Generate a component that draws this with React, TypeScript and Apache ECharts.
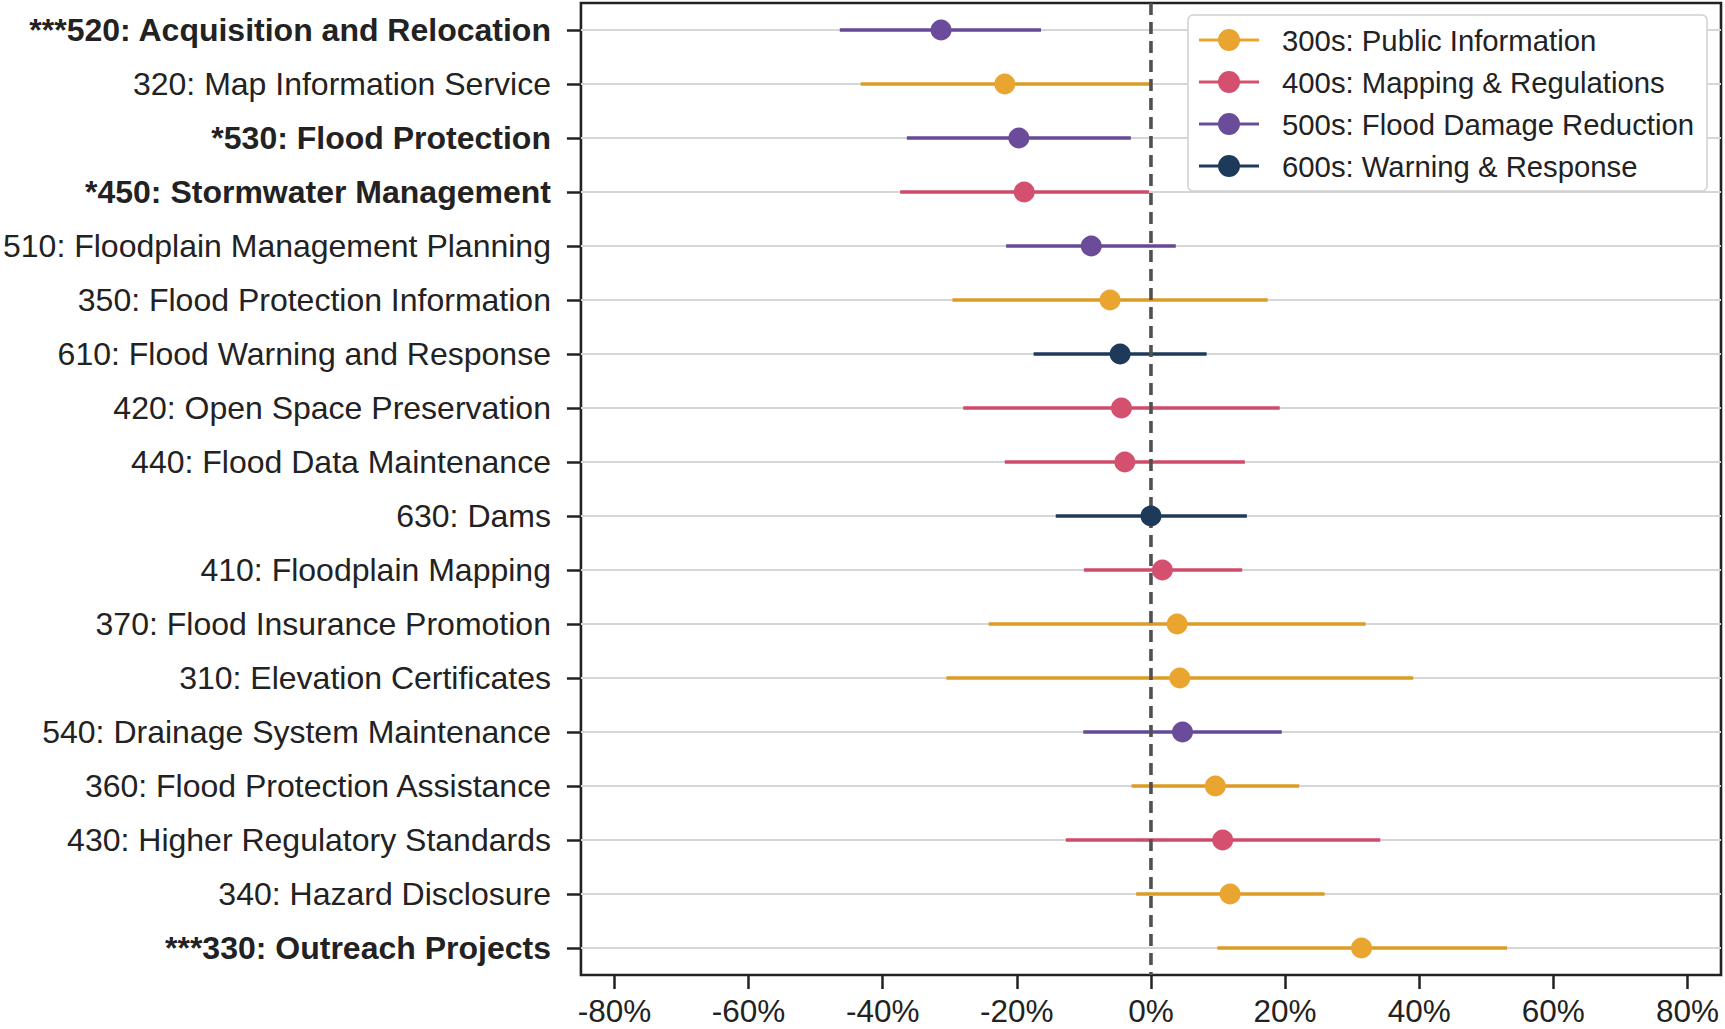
import { useEffect, useRef } from "react";
import * as echarts from "echarts";

const categories = [
  "***520: Acquisition and Relocation",
  "320: Map Information Service",
  "*530: Flood Protection",
  "*450: Stormwater Management",
  "510: Floodplain Management Planning",
  "350: Flood Protection Information",
  "610: Flood Warning and Response",
  "420: Open Space Preservation",
  "440: Flood Data Maintenance",
  "630: Dams",
  "410: Floodplain Mapping",
  "370: Flood Insurance Promotion",
  "310: Elevation Certificates",
  "540: Drainage System Maintenance",
  "360: Flood Protection Assistance",
  "430: Higher Regulatory Standards",
  "340: Hazard Disclosure",
  "***330: Outreach Projects",
];

// group key of each row
const rowGroups = ["500", "300", "500", "400", "500", "300", "600", "400", "400", "600", "400", "300", "300", "500", "300", "400", "300", "300"];

// effect estimate and interval (%)
const centers = [-31.3, -21.8, -19.7, -18.9, -8.9, -6.1, -4.6, -4.4, -3.9, 0.0, 1.7, 3.9, 4.3, 4.7, 9.6, 10.7, 11.8, 31.4];
const lows = [-46.4, -43.3, -36.4, -37.4, -21.6, -29.6, -17.5, -28.0, -21.8, -14.2, -10.0, -24.2, -30.5, -10.1, -2.9, -12.7, -2.2, 9.9];
const highs = [-16.4, 0.0, -3.0, -0.3, 3.7, 17.4, 8.3, 19.2, 14.0, 14.3, 13.6, 32.0, 39.1, 19.5, 22.1, 34.2, 25.9, 53.1];

const groupKeys = ["300", "400", "500", "600"];
const groupNames = [
  "300s: Public Information",
  "400s: Mapping & Regulations",
  "500s: Flood Damage Reduction",
  "600s: Warning & Response",
];
const groupColors = ["#E9A52F", "#D5506F", "#6A4C9B", "#1E3A5B"];
const barColors = ["#DC9B24", "#CF4B6A", "#654898", "#1E3A5B"];

const xTicks = [-80, -60, -40, -20, 0, 20, 40, 60, 80];
const refValue = 0;

const FONT = "'Liberation Sans', Arial, Helvetica, sans-serif";
const legendIcon =
  "path://M0,9.5L60,9.5L60,12.5L0,12.5Z M41,11A11,11 0 1 1 19,11A11,11 0 1 1 41,11Z";

export default function App() {
  const chartRef = useRef<HTMLDivElement | null>(null);

  useEffect(() => {
    document.body.style.margin = "0";
    if (!chartRef.current) return;
    const chart = echarts.init(chartRef.current, undefined, { renderer: "svg" });

    const errorSeries: any[] = [];
    const pointSeries: any[] = [];
    groupKeys.forEach((key, g) => {
      const idx = categories.map((_, i) => i).filter((i) => rowGroups[i] === key);
      errorSeries.push({
        name: groupNames[g],
        type: "custom",
        z: 2,
        itemStyle: { color: groupColors[g] },
        encode: { x: [0, 2], y: 1 },
        data: idx.map((i) => [lows[i], i, highs[i]]),
        renderItem: (params: any, api: any) => {
          const a = api.coord([api.value(0), api.value(1)]);
          const b = api.coord([api.value(2), api.value(1)]);
          return {
            type: "line",
            shape: { x1: a[0], y1: a[1], x2: b[0], y2: b[1] },
            style: { stroke: barColors[g], lineWidth: 3.6 },
          };
        },
      });
      pointSeries.push({
        name: groupNames[g],
        type: "scatter",
        z: 10,
        symbol: "circle",
        symbolSize: 21,
        itemStyle: { color: groupColors[g], opacity: 1 },
        data: idx.map((i) => [centers[i], i]),
      });
    });

    chart.setOption({
      animation: false,
      textStyle: { fontFamily: FONT },
      grid: {
        left: 580,
        right: 4,
        top: 3,
        bottom: 54,
        show: true,
        borderColor: "#222",
        borderWidth: 2.6,
        backgroundColor: "transparent",
      },
      legend: {
        orient: "vertical",
        left: 1188,
        top: 15,
        itemWidth: 60,
        itemHeight: 22,
        itemGap: 10,
        padding: [9, 13, 9, 11],
        backgroundColor: "#fff",
        borderColor: "#d0d0d0",
        borderWidth: 1.5,
        borderRadius: 5,
        data: groupNames.map((n) => ({ name: n, icon: legendIcon })),
        textStyle: {
          fontFamily: FONT,
          fontSize: 29.3,
          color: "#222",
          lineHeight: 32,
          padding: [0, 0, 0, 18],
        },
      },
      xAxis: {
        type: "value",
        min: -85,
        max: 85,
        axisLine: { show: false, onZero: false },
        splitLine: { show: false },
        axisTick: {
          show: true,
          customValues: xTicks,
          length: 14,
          lineStyle: { color: "#222", width: 2.5 },
        },
        axisLabel: {
          customValues: xTicks,
          formatter: (v: number) => `${v}%`,
          fontSize: 31.5,
          color: "#222",
          margin: 20,
          fontFamily: FONT,
        },
      },
      yAxis: {
        type: "category",
        data: categories,
        inverse: true,
        axisLine: { show: false, onZero: false },
        splitLine: { show: false },
        axisTick: {
          show: true,
          alignWithLabel: true,
          length: 14,
          lineStyle: { color: "#222", width: 2.5 },
        },
        axisLabel: {
          margin: 30,
          fontSize: 32,
          color: "#222",
          fontFamily: FONT,
          formatter: (v: string) => (v.startsWith("*") ? `{b|${v}}` : `{n|${v}}`),
          rich: {
            b: { fontSize: 32, fontWeight: "bold", color: "#222", fontFamily: FONT },
            n: { fontSize: 32, color: "#222", fontFamily: FONT },
          },
        },
      },
      series: [
        {
          name: "grid",
          type: "custom",
          z: 1,
          silent: true,
          encode: { x: 0, y: 1 },
          data: categories.map((_, i) => [refValue, i]),
          renderItem: (params: any, api: any) => {
            const y = api.coord([refValue, api.value(1)])[1];
            const cs = params.coordSys;
            return {
              type: "line",
              shape: { x1: cs.x, y1: y, x2: cs.x + cs.width, y2: y },
              style: { stroke: "#d6d6d6", lineWidth: 1.8 },
            };
          },
        },
        {
          name: "zero",
          type: "custom",
          z: 5,
          silent: true,
          encode: { x: 0, y: 1 },
          data: [[refValue, 0]],
          renderItem: (params: any, api: any) => {
            const x = api.coord([api.value(0), 0])[0];
            const cs = params.coordSys;
            return {
              type: "line",
              shape: { x1: x, y1: cs.y, x2: x, y2: cs.y + cs.height },
              style: { stroke: "#505050", lineWidth: 3.6, lineDash: [12, 7] },
            };
          },
        },
        ...errorSeries,
        ...pointSeries,
      ],
    });

    return () => {
      chart.dispose();
    };
  }, []);

  return <div ref={chartRef} style={{ width: 1725, height: 1029 }} />;
}
